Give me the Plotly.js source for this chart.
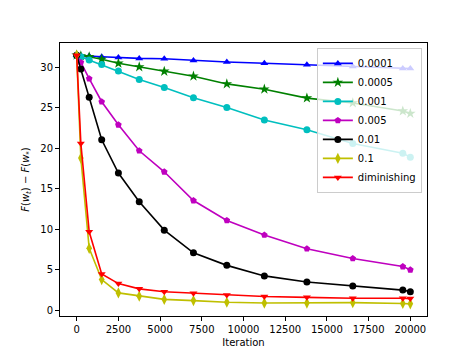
<!DOCTYPE html>
<html>
<head>
<meta charset="utf-8">
<script src="https://cdn.plot.ly/plotly-3.0.1.min.js"></script>
<style>html,body{margin:0;padding:0;background:#fff;}#chart{width:474px;height:355px;}</style>
</head>
<body>
<div id="chart"></div>
<script>
const iterations = [0, 250, 750, 1500, 2500, 3750, 5250, 7000, 9000, 11250, 13800, 16550, 19550, 20000];
const seriesNames = ["0.0001", "0.0005", "0.001", "0.005", "0.01", "0.1", "diminishing"];
const s0001 = [31.5, 31.45, 31.4, 31.3, 31.2, 31.1, 31.05, 30.85, 30.65, 30.5, 30.3, 30.1, 29.85, 29.85];
const s0005 = [31.5, 31.4, 31.3, 31.0, 30.5, 30.05, 29.5, 28.9, 27.95, 27.3, 26.2, 25.6, 24.6, 24.3];
const s001 = [31.5, 31.3, 30.9, 30.35, 29.55, 28.5, 27.5, 26.25, 25.05, 23.5, 22.3, 20.6, 19.4, 18.9];
const s005 = [31.5, 30.6, 28.6, 25.75, 22.9, 19.7, 17.1, 13.55, 11.1, 9.3, 7.6, 6.4, 5.4, 5.0];
const s01 = [31.5, 29.8, 26.3, 21.05, 16.95, 13.4, 9.9, 7.1, 5.55, 4.25, 3.5, 3.0, 2.5, 2.3];
const s1 = [31.5, 18.8, 7.65, 3.8, 2.15, 1.75, 1.35, 1.2, 1.0, 0.9, 0.9, 0.95, 0.85, 0.8];
const sDim = [31.5, 20.6, 9.7, 4.5, 3.3, 2.65, 2.3, 2.1, 1.9, 1.7, 1.6, 1.5, 1.5, 1.45];

const seriesValues = [s0001, s0005, s001, s005, s01, s1, sDim];
const colors = ["#0000ff", "#008000", "#00bfbf", "#bf00bf", "#000000", "#bfbf00", "#ff0000"];
const symbols = ["triangle-up", "star", "circle", "pentagon", "circle", "diamond-tall", "triangle-down"];
const sizes = [7, 8, 7, 7, 7, 8, 7];

const traces = seriesValues.map((vals, i) => ({
  x: iterations, y: vals, name: seriesNames[i], type: "scatter", mode: "lines+markers",
  line: {color: colors[i], width: 1.6},
  marker: {color: colors[i], symbol: symbols[i], size: sizes[i], line: {width: 0}}
}));

const layout = {
  width: 474, height: 355,
  margin: {l: 60, r: 47, t: 43, b: 39},
  paper_bgcolor: "#fff", plot_bgcolor: "#fff",
  font: {family: "DejaVu Sans", size: 10, color: "#000"},
  showlegend: true,
  legend: {x: 0.986, y: 0.982, xanchor: "right", yanchor: "top",
    bgcolor: "rgba(255,255,255,0.8)", bordercolor: "#cccccc", borderwidth: 1,
    font: {family: "DejaVu Sans", size: 10}, tracegroupgap: 0, itemwidth: 30},
  xaxis: {range: [-1000, 21000], tickvals: [0, 2500, 5000, 7500, 10000, 12500, 15000, 17500, 20000],
    ticktext: ["0", "2500", "5000", "7500", "10000", "12500", "15000", "17500", "20000"],
    showgrid: false, zeroline: false, showline: true, mirror: true, linecolor: "#000", linewidth: 1,
    ticks: "outside", ticklen: 4, tickcolor: "#000",
    title: {text: "Iteration", font: {size: 10}, standoff: 4}},
  yaxis: {range: [-0.7, 33.0], tickvals: [0, 5, 10, 15, 20, 25, 30],
    showgrid: false, zeroline: false, showline: true, mirror: true, linecolor: "#000", linewidth: 1,
    ticks: "outside", ticklen: 4, tickcolor: "#000",
    title: {text: "<i>F</i>(<i>w</i><sub><i>t</i></sub>) − <i>F</i>(<i>w</i><sub>*</sub>)", font: {size: 10}, standoff: 8}}
};

Plotly.newPlot("chart", traces, layout, {displayModeBar: false, staticPlot: true});
</script>
</body>
</html>
